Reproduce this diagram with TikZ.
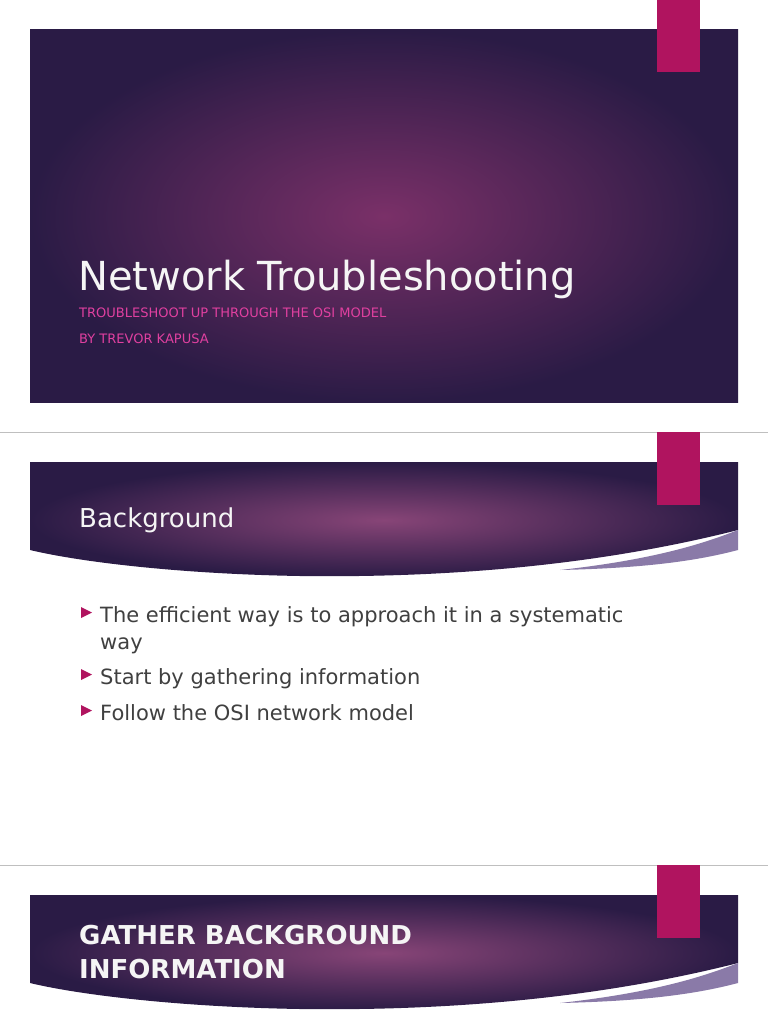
\documentclass[tikz,border=0pt]{standalone}
\usepackage{fontspec}
\setmainfont{DejaVu Sans}
\definecolor{tabpink}{HTML}{B0145F}
\definecolor{pinktxt}{HTML}{E040A0}
\definecolor{inner}{HTML}{7A3068}
\definecolor{outer}{HTML}{2A1B45}
\definecolor{bodytxt}{HTML}{404040}
\definecolor{lav}{HTML}{8A7AA8}
\tikzset{tab/.style={fill=tabpink},
 bul/.style={anchor=base west,text=bodytxt,font=\fontsize{21}{25}\selectfont},
 tri/.style={fill=tabpink}}
\begin{document}
\begin{tikzpicture}[x=1pt,y=-1pt]
\useasboundingbox (0,0) rectangle (768,1024);
\fill[white] (0,0) rectangle (768,1024);
% slide 1
\shade[inner color=inner,outer color=outer] (30,30) rectangle (738,402);
\fill[tab] (657,0) rectangle (700,72);
\node[anchor=base west,text=white!92!gray,font=\fontsize{40}{44}\selectfont,inner sep=0] (t1) at (78,290) {Network Troubleshooting};
\node[anchor=base west,text=pinktxt,font=\fontsize{13}{15}\selectfont,inner sep=0] (t2) at (79,317) {TROUBLESHOOT UP THROUGH THE OSI MODEL};
\node[anchor=base west,text=pinktxt,font=\fontsize{13}{15}\selectfont,inner sep=0] (t3) at (79,343) {BY TREVOR KAPUSA};
\draw[gray!50] (0,432) -- (768,432);
% slide 2
\shade[inner color=inner!90,outer color=outer] (30,462) -- (738,462) -- (738,530) .. controls (600,565) and (450,578) .. (300,576) .. controls (180,574) and (80,562) .. (30,550) -- cycle;
\fill[lav] (560,570) .. controls (650,560) and (700,545) .. (738,530) -- (738,550) .. controls (700,560) and (650,568) .. (560,570) -- cycle;
\fill[tab] (657,432) rectangle (700,505);
\node[anchor=base west,text=white!92!gray,font=\fontsize{26}{30}\selectfont,inner sep=0] (h2) at (79,527) {Background};
\foreach \yy/\tt in {622/The efficient way is to approach it in a systematic,684/Start by gathering information,720/Follow the OSI network model}{
 \fill[tri] (81,\yy-15) -- (92,\yy-9.5) -- (81,\yy-4) -- cycle;
 \node[bul,inner sep=0] at (100,\yy) {\tt};}
\node[bul,inner sep=0] (b1b) at (100,649) {way};
\draw[gray!50] (0,865) -- (768,865);
% slide 3
\shade[inner color=inner!90,outer color=outer] (30,895) -- (738,895) -- (738,963) .. controls (600,998) and (450,1011) .. (300,1009) .. controls (180,1007) and (80,995) .. (30,983) -- cycle;
\fill[lav] (560,1003) .. controls (650,993) and (700,978) .. (738,963) -- (738,983) .. controls (700,993) and (650,1001) .. (560,1003) -- cycle;
\fill[tab] (657,865) rectangle (700,938);
\node[anchor=base west,text=white!92!gray,font=\bfseries\fontsize{26}{30}\selectfont,inner sep=0] (h3a) at (79,944) {GATHER BACKGROUND};
\node[anchor=base west,text=white!92!gray,font=\bfseries\fontsize{26}{30}\selectfont,inner sep=0] (h3b) at (79,978) {INFORMATION};
\end{tikzpicture}
\end{document}
